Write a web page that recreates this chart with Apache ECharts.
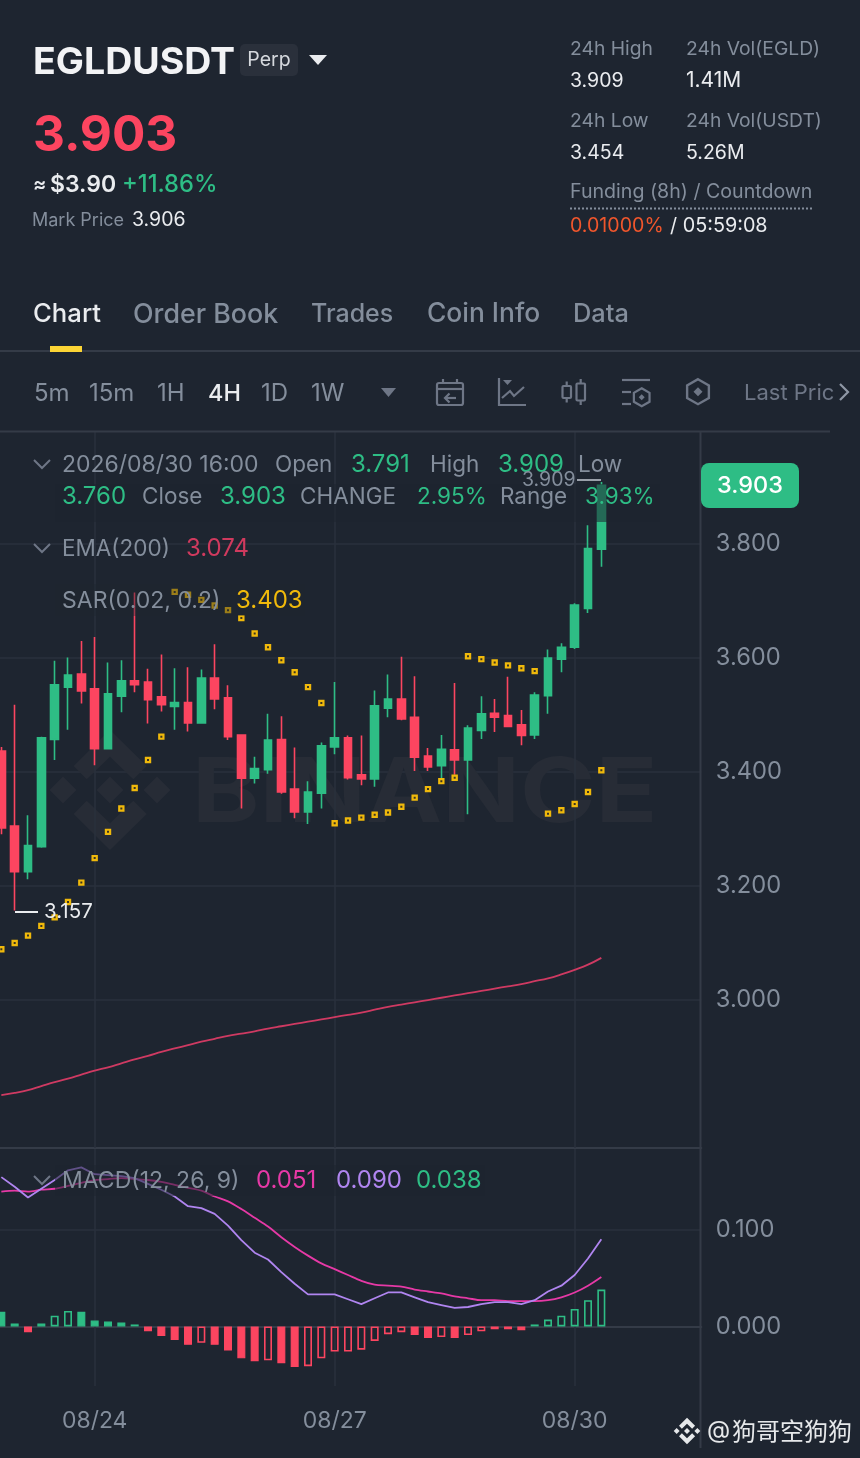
<!DOCTYPE html>
<html><head><meta charset="utf-8">
<style>html,body{margin:0;padding:0;background:#1e2530}#c{width:860px;height:1458px}</style>
<script src="https://cdn.jsdelivr.net/npm/echarts@6/dist/echarts.min.js"></script>
</head><body><div id="c"></div>
<script>
const timeLabels=['08/22 20:00','08/23 00:00','08/23 04:00','08/23 08:00','08/23 12:00','08/23 16:00','08/23 20:00',
'08/24 00:00','08/24 04:00','08/24 08:00','08/24 12:00','08/24 16:00','08/24 20:00',
'08/25 00:00','08/25 04:00','08/25 08:00','08/25 12:00','08/25 16:00','08/25 20:00',
'08/26 00:00','08/26 04:00','08/26 08:00','08/26 12:00','08/26 16:00','08/26 20:00',
'08/27 00:00','08/27 04:00','08/27 08:00','08/27 12:00','08/27 16:00','08/27 20:00',
'08/28 00:00','08/28 04:00','08/28 08:00','08/28 12:00','08/28 16:00','08/28 20:00',
'08/29 00:00','08/29 04:00','08/29 08:00','08/29 12:00','08/29 16:00','08/29 20:00',
'08/30 00:00','08/30 04:00','08/30 08:00'];
const emptySlots=['','','','','','',''];
const dateTicks=['08/24 00:00','08/27 00:00','08/30 00:00'];
const priceTicks=[3.0,3.2,3.4,3.6,3.8];
const macdTicks=[0,0.1];
// open, close, low, high
const candles=[
[3.437,3.302,3.291,3.444],[3.305,3.225,3.157,3.518],[3.225,3.271,3.212,3.324],[3.269,3.460,3.267,3.462],
[3.457,3.553,3.421,3.595],[3.549,3.570,3.474,3.601],[3.572,3.542,3.520,3.630],[3.546,3.441,3.412,3.637],
[3.441,3.537,3.440,3.592],[3.533,3.560,3.505,3.596],[3.560,3.553,3.540,3.715],[3.558,3.527,3.485,3.581],
[3.532,3.518,3.506,3.606],[3.515,3.522,3.474,3.582],[3.522,3.486,3.471,3.584],[3.486,3.565,3.486,3.580],
[3.565,3.528,3.510,3.624],[3.530,3.462,3.456,3.552],[3.465,3.389,3.336,3.466],[3.389,3.406,3.380,3.427],
[3.404,3.456,3.397,3.502],[3.457,3.365,3.362,3.498],[3.370,3.330,3.319,3.443],[3.330,3.365,3.309,3.384],
[3.363,3.446,3.336,3.452],[3.444,3.460,3.431,3.558],[3.460,3.390,3.387,3.464],[3.395,3.388,3.377,3.464],
[3.388,3.516,3.374,3.543],[3.512,3.528,3.496,3.571],[3.528,3.493,3.491,3.602],[3.496,3.426,3.402,3.568],
[3.428,3.409,3.402,3.442],[3.411,3.440,3.389,3.465],[3.439,3.421,3.395,3.556],[3.421,3.477,3.326,3.482],
[3.473,3.502,3.458,3.533],[3.503,3.496,3.470,3.528],[3.499,3.480,3.479,3.567],[3.483,3.464,3.447,3.509],
[3.465,3.535,3.458,3.540],[3.534,3.600,3.502,3.615],[3.598,3.619,3.575,3.626],[3.619,3.693,3.616,3.696],
[3.687,3.792,3.679,3.833],[3.791,3.903,3.760,3.909]];
const sarValues=[3.089,3.100,3.113,3.130,3.145,3.172,3.206,3.249,3.295,3.336,3.372,3.421,3.462,
3.716,3.711,3.702,3.692,3.684,3.670,3.643,3.619,3.596,3.575,3.549,3.521,
3.310,3.315,3.320,3.325,3.329,3.339,3.355,3.370,3.384,3.390,
3.603,3.598,3.592,3.587,3.582,3.577,
3.327,3.333,3.344,3.365,3.403];
const emaValues=[2.833,2.837,2.842,2.849,2.856,2.862,2.869,2.876,2.882,2.889,2.896,2.902,2.909,2.915,2.921,2.927,
2.932,2.937,2.941,2.945,2.950,2.954,2.958,2.962,2.966,2.970,2.974,2.978,2.983,2.988,2.992,2.996,3.000,3.004,3.008,
3.012,3.016,3.020,3.024,3.028,3.033,3.038,3.045,3.053,3.062,3.074];
const difValues=[.154,.144,.133,.142,.151,.161,.164,.157,.156,.155,.153,.147,.141,.134,.124,.122,.116,.104,.089,.076,
.069,.056,.044,.033,.033,.033,.028,.023,.029,.035,.035,.030,.025,.022,.019,.020,.023,.025,.025,.023,.027,.036,.042,.053,.070,.090];
const deaValues=[.139,.140,.139,.141,.142,.145,.148,.151,.152,.153,.152,.151,.149,.146,.143,.140,.134,.129,.121,.112,
.103,.092,.082,.073,.065,.059,.053,.047,.043,.042,.041,.038,.036,.034,.031,.029,.027,.027,.026,.026,.026,.027,.030,.035,.042,.051];
const histValues=[.015,.003,-.006,.003,.011,.016,.015,.006,.005,.004,.002,-.005,-.010,-.014,-.019,-.017,-.019,-.025,-.033,-.036,
-.035,-.038,-.042,-.041,-.033,-.026,-.026,-.024,-.015,-.008,-.006,-.009,-.012,-.011,-.012,-.009,-.005,-.003,-.003,-.004,.002,.007,.011,.018,.027,.038];
const histHollow=[0,0,0,0,1,1,0,0,0,0,0,0,0,0,0,1,0,0,0,0,1,0,0,1,1,1,1,1,1,1,1,0,0,1,0,1,1,0,0,0,0,1,1,1,1,1];

const BG='#1e2530',GREEN='#2EBD85',RED='#FC4560',GRAY='#848E9C',WHITE='#EAECEF',GRID='#2A313C',SEP='#343B47',ICON='#6E7686',
 FF='Inter, "Noto Sans", sans-serif';
const allCats=timeLabels.concat(emptySlots);
const g=[];
function t(x,y,text,fill,size,w,align,z){g.push({type:'text',z:z||110,style:{x,y:y+1,text,fill,font:(w||400)+' '+size+'px '+FF,textAlign:align||'left',textVerticalAlign:'middle'}});}
function pl(points,stroke,lw,z){g.push({type:'polyline',z:z||110,shape:{points},style:{stroke:stroke||ICON,lineWidth:lw||2.2,fill:null}});}
function ln(x1,y1,x2,y2,stroke,lw,z,dash){g.push({type:'line',z:z||110,shape:{x1,y1,x2,y2},style:{stroke:stroke||ICON,lineWidth:lw||2.2,lineDash:dash}});}
function rc(x,y,width,height,fill,r,z,stroke,lw){g.push({type:'rect',z:z||110,shape:{x,y,width,height,r:r||0},style:{fill:fill||null,stroke:stroke||null,lineWidth:lw||0}});}
function pg(points,fill,z,stroke,lw){g.push({type:'polygon',z:z||110,shape:{points},style:{fill:fill||null,stroke:stroke||null,lineWidth:lw||0}});}
function hex(cx,cy,r,stroke,lw){pg([[cx,cy-r],[cx+r*.87,cy-r/2],[cx+r*.87,cy+r/2],[cx,cy+r],[cx-r*.87,cy+r/2],[cx-r*.87,cy-r/2]],null,110,stroke,lw);}
function dia(cx,cy,r,fill,z){pg([[cx,cy-r],[cx+r,cy],[cx,cy+r],[cx-r,cy]],fill,z);}
function logo(cx,cy,s,fill,z){
 dia(cx-47*s,cy,13.5*s,fill,z);dia(cx,cy,13.5*s,fill,z);dia(cx+47*s,cy,13.5*s,fill,z);
 pg([[cx-36.3*s,cy-24*s],[cx,cy-60*s],[cx+36.7*s,cy-24*s],[cx+23.3*s,cy-10.7*s],[cx,cy-33.3*s],[cx-23.3*s,cy-10.7*s]],fill,z);
 pg([[cx-36.3*s,cy+24*s],[cx,cy+60*s],[cx+36.7*s,cy+24*s],[cx+23.3*s,cy+10.7*s],[cx,cy+33.3*s],[cx-23.3*s,cy+10.7*s]],fill,z);
}
// header
t(33,61.5,'EGLDUSDT','#F2F3F5',37.5,700);
rc(240,44,58,32,'#2A303B',5);
t(269,59.5,'Perp','#D6D9DE',19.5,400,'center');
pg([[309,55],[327,55],[318,65]],'#EAECEF');
t(33,135,'3.903',RED,49.5,700);
t(33,184,'≈',WHITE,20,600);t(50,184,'$3.90',WHITE,23,600);t(122,184,'+11.86%',GREEN,23.7,500);
t(32,219.5,'Mark Price',GRAY,18);t(132,219.5,'3.906',WHITE,19.5);
t(570,48.5,'24h High',GRAY,19.3);t(686,48.5,'24h Vol(EGLD)',GRAY,19.3);
t(570,80,'3.909',WHITE,19.5);t(686,80,'1.41M',WHITE,21);
t(570,120.5,'24h Low',GRAY,19.3);t(686,120.5,'24h Vol(USDT)',GRAY,19.3);
t(570,152,'3.454',WHITE,19.5);t(686,152,'5.26M',WHITE,19.5);
t(570,191.5,'Funding (8h) / Countdown',GRAY,19.6);
ln(570,208.5,812,208.5,'#848E9C',2,110,[2,2]);
t(570,225.5,'0.01000%','#F0562C',19.6);t(670,225.5,'/ 05:59:08',WHITE,19.8);
// tabs
t(33,313.5,'Chart',WHITE,25.7,500);t(133,313.5,'Order Book',GRAY,26.8,500);t(311,313.5,'Trades',GRAY,25,500);t(427,313.5,'Coin Info',GRAY,26.4,500);t(573,313.5,'Data',GRAY,25.4,500);
rc(0,350,860,2,SEP);rc(50,346,32,6,'#FCD535');
// toolbar
[['5m',34],['15m',89],['1H',157],['1D',261],['1W',311]].forEach(a=>t(a[1],392.5,a[0],GRAY,24));
t(208,392.5,'4H',WHITE,23.5,500);
pg([[381,388],[396,388],[388.5,397]],ICON);
rc(437,383,26,22,null,2,110,ICON,2.2);ln(437,389,463,389);ln(443,379,443,383);ln(457,379,457,383);
ln(445,398,456,398);pl([[449.5,393.5],[445,398],[449.5,402.5]]);
pl([[499,378],[499,405],[526,405]]);pl([[502,398],[510,391],[514,396],[524,387]]);pg([[503,380],[512,380],[507.5,385]],ICON);
rc(562.5,386,8.5,12,null,1,110,ICON,2.2);ln(566.7,381.5,566.7,386);ln(566.7,398,566.7,402.5);
rc(576.5,383.5,8.5,17,null,1,110,ICON,2.2);ln(580.7,379,580.7,383.5);ln(580.7,400.5,580.7,405);
ln(622,380,650,380);ln(622,392,631,392);ln(622,404,631,404);hex(641.7,397.3,9,ICON,2.2);dia(641.7,397.3,3,ICON);
hex(698,391.7,12.5,ICON,2.4);dia(698,391.7,4.5,ICON);
t(744,392.5,'Last Pric',ICON,22,400);pl([[840,384],[848,392],[840,400]],'#8f97a5',2.2);
// frame
rc(0,430.5,830,2,SEP);
ln(700.5,432,700.5,1448,SEP,2,50);
// watermark
logo(110,790,1,'#272C36',1);
g.push({type:'text',z:1,x:192,y:795,scaleX:1.134,style:{x:0,y:0,text:'BINANCE',fill:'#272C36',font:'700 90px '+FF,textAlign:'left',textVerticalAlign:'middle'}});
// legend backdrops
rc(55,484,605,38,'rgba(30,37,48,.55)',0,100);
rc(55,584,250,32,'rgba(30,37,48,.4)',0,100);
rc(55,1165,430,31,'rgba(30,37,48,.55)',0,100);
// legend
const cv=(y)=>pl([[34,y-4],[42,y+4],[50,y-4]],'#6E7686',2);
cv(464);cv(548);cv(1180);
const NS=24,TS=22.5;
t(62,464,'2026/08/30 16:00',GRAY,23);t(275,464,'Open',GRAY,TS);t(351,464,'3.791',GREEN,NS);t(430,464,'High',GRAY,TS);t(498,464,'3.909',GREEN,NS);t(578,464,'Low',GRAY,TS);
t(62,496,'3.760',GREEN,NS);t(142,496,'Close',GRAY,TS);t(220,496,'3.903',GREEN,NS);t(300,496,'CHANGE',GRAY,TS);t(417,496,'2.95%',GREEN,TS);t(500,496,'Range',GRAY,TS);t(585,496,'3.93%',GREEN,TS);
t(62,548,'EMA(200)',GRAY,TS);t(186,548,'3.074','#D03A5E',NS);
t(62,600,'SAR(0.02, 0.2)',GRAY,23);t(236,600,'3.403','#F0B90B',NS);
t(62,1180,'MACD(12, 26, 9)',GRAY,23);t(256,1180,'0.051','#E639A6',NS);t(336,1180,'0.090','#B085F0',NS);t(416,1180,'0.038',GREEN,NS);
// high / low marks
t(522,479,'3.909','#848E9C',19.5);ln(577,480,601,480,'#9aa0aa',2);
ln(15,912,38,912,'#EAECEF',2);t(44,911,'3.157','#EAECEF',20.5);
// price tag
rc(701,463,98,45,GREEN,8);t(750,485,'3.903','#fff',23.5,500,'center');
// signature
logo(687,1431,0.22,'#E6E8EA');
t(707,1430,'@','#E6E8EA',24);
g.push({type:'text',z:110,style:{x:732,y:1431,text:'狗哥空狗狗',fill:'#E6E8EA',font:'400 24px "Noto Sans CJK SC"',textVerticalAlign:'middle',shadowBlur:2,shadowColor:'#000',shadowOffsetX:1,shadowOffsetY:1}});

const histData=histValues.map((v,i)=>{const col=v>=0?GREEN:RED;
 return histHollow[i]?{value:v,itemStyle:{color:'transparent',borderColor:col,borderWidth:1.6}}:{value:v,itemStyle:{color:col,borderColor:col,borderWidth:1.2}};});
const vLines=dateTicks.map(d=>({xAxis:d}));
const xBase={type:'category',data:allCats,boundaryGap:true,axisTick:{show:false},splitLine:{show:false},axisLine:{lineStyle:{color:SEP,width:2}}};
const yBase=(ticks,margin)=>({position:'right',axisLine:{show:false},axisTick:{show:false,customValues:ticks},
 splitLine:{show:true,lineStyle:{color:GRID,width:1.5}},
 axisLabel:{color:GRAY,fontSize:23.7,fontFamily:FF,margin,customValues:ticks,formatter:v=>v.toFixed(3)}});
const vMark={z:1,silent:true,symbol:'none',label:{show:false},lineStyle:{color:GRID,width:1.5,type:'solid'},data:vLines};
const chart=echarts.init(document.getElementById('c'),null,{renderer:'canvas',width:860,height:1458});
chart.setOption({
 animation:false,backgroundColor:BG,
 grid:[{outerBoundsMode:'none',left:-5.33,top:432,width:706.67,height:716},{outerBoundsMode:'none',left:-5.33,top:1149,width:706.67,height:237}],
 xAxis:[Object.assign({},xBase,{gridIndex:0,axisLabel:{show:false}}),
  Object.assign({},xBase,{gridIndex:1,axisLabel:{show:true,color:GRAY,fontSize:23,fontFamily:FF,margin:24,interval:(i,v)=>dateTicks.includes(v),formatter:v=>v.slice(0,5)}})],
 yAxis:[Object.assign({type:'value',gridIndex:0,min:2.7404,max:3.9965},yBase(priceTicks,14.5)),
  Object.assign({type:'value',gridIndex:1,min:-0.0615,max:0.183},yBase(macdTicks,14.5))],
 graphic:{elements:g},
 series:[
  {type:'line',xAxisIndex:0,yAxisIndex:0,data:[],z:1,markLine:vMark},
  {type:'line',xAxisIndex:1,yAxisIndex:1,data:[],z:1,markLine:vMark},
  {type:'candlestick',name:'K',xAxisIndex:0,yAxisIndex:0,data:candles,barWidth:8,z:3,
   itemStyle:{color:GREEN,color0:RED,borderColor:GREEN,borderColor0:RED,borderColorDoji:RED,borderWidth:1.6}},
  {type:'line',name:'EMA(200)',xAxisIndex:0,yAxisIndex:0,data:emaValues,symbol:'none',smooth:0.4,z:4,lineStyle:{color:'#CF3A62',width:1.8}},
  {type:'scatter',name:'SAR',xAxisIndex:0,yAxisIndex:0,data:sarValues,symbol:'rect',symbolSize:4.2,z:5,
   itemStyle:{color:'#3a3420',borderColor:'#F0B90B',borderWidth:2.2,opacity:1}},
  {type:'bar',name:'HIST',xAxisIndex:1,yAxisIndex:1,data:histData,barWidth:8,z:3},
  {type:'line',name:'DEA',xAxisIndex:1,yAxisIndex:1,data:deaValues,symbol:'none',smooth:0.3,z:4,lineStyle:{color:'#E639A6',width:1.8}},
  {type:'line',name:'DIF',xAxisIndex:1,yAxisIndex:1,data:difValues,symbol:'none',z:5,lineStyle:{color:'#B085F0',width:1.8}}
 ]
});
</script></body></html>
